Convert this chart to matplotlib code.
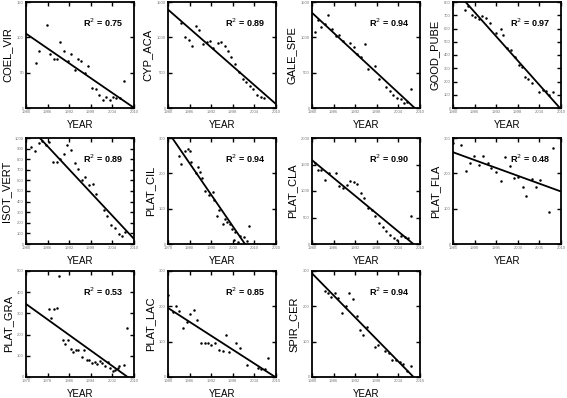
import matplotlib
matplotlib.use("Agg")
import matplotlib.pyplot as plt
import numpy as np

plt.rcParams['font.family'] = ['Liberation Sans', 'DejaVu Sans']

# species names (y labels) and the R^2 printed in each panel
species = ["COEL_VIR", "CYP_ACA", "GALE_SPE", "GOOD_PUBE",
           "ISOT_VERT", "PLAT_CIL", "PLAT_CLA", "PLAT_FLA",
           "PLAT_GRA", "PLAT_LAC", "SPIR_CER"]
r2_text = ["0.75", "0.89", "0.94", "0.97", "0.89", "0.94",
           "0.90", "0.48", "0.53", "0.85", "0.94"]

# counts, one pair of lists per species
coel_vir_year = [1982.7, 1983.7, 1985.7, 1986.6, 1987.7, 1988.6, 1989.5, 1990.6, 1991.6,
                 1992.5, 1993.5, 1994.5, 1995.4, 1996.3, 1997.3, 1998.3, 1999.4, 2000.4,
                 2001.4, 2002.2, 2003.3, 2004.2, 2005.1, 2006.1, 2007.2]
coel_vir = [63, 80, 117, 77, 70, 70, 94, 80, 67, 76, 54, 69, 67, 50, 59, 28, 27, 19,
            12, 15, 12, 16, 14, 14, 38]

cyp_aca_year = [1983.7, 1984.7, 1985.8, 1986.7, 1987.7, 1988.7, 1989.7, 1990.7, 1991.7,
                1992.6, 1993.8, 1994.7, 1995.7, 1996.6, 1997.5, 1998.7, 1999.7, 2000.7,
                2001.6, 2002.7, 2003.6, 2004.7, 2005.7, 2006.6]
cyp_aca = [1205, 999, 961, 877, 1163, 1102, 905, 938, 947, 844, 914, 938, 881, 806,
           727, 624, 516, 413, 366, 314, 272, 188, 150, 136]

gale_spe_year = [1980.7, 1981.6, 1982.6, 1983.6, 1984.5, 1985.6, 1986.6, 1987.6, 1988.6,
                 1990.6, 1991.6, 1992.6, 1993.6, 1994.6, 1995.6, 1997.5, 1998.6, 2000.6,
                 2001.6, 2002.5, 2003.6, 2004.6, 2005.5, 2006.4, 2007.6]
gale_spe = [1078, 1242, 1148, 1195, 1322, 1111, 1017, 1031, 952, 924, 858, 764, 727,
            900, 549, 600, 413, 291, 234, 188, 141, 127, 70, 80, 267]

good_pube_year = [1983.2, 1984.3, 1985.3, 1986.2, 1987.1, 1988.0, 1989.2, 1990.2, 1992.0,
                  1993.2, 1994.0, 1995.1, 1996.2, 1997.1, 1998.2, 1999.1, 2000.0, 2000.9,
                  2001.9, 2004.0, 2004.9, 2005.8, 2006.8, 2007.9]
good_pube = [737, 770, 705, 687, 668, 692, 680, 642, 567, 597, 550, 455, 437, 382, 325,
             312, 237, 217, 192, 117, 137, 125, 95, 117]

isot_vert_year = [1981.4, 1982.5, 1983.5, 1984.5, 1985.5, 1986.4, 1987.4, 1988.5, 1989.4,
                  1990.6, 1991.5, 1992.5, 1993.5, 1994.4, 1995.5, 1996.5, 1997.5, 1998.5,
                  1999.5, 2001.6, 2002.6, 2003.6, 2004.6, 2005.7, 2006.6, 2007.6]
isot_vert = [911, 873, 952, 968, 930, 962, 778, 778, 803, 851, 930, 883, 768, 708, 603,
             632, 556, 562, 476, 324, 263, 181, 149, 98, 73, 111]

plat_cil_year = [1975.1, 1976.2, 1978.0, 1979.2, 1980.2, 1980.8, 1983.1, 1983.8, 1984.9,
                 1985.7, 1986.9, 1988.9, 1990.8, 1991.5, 1992.8, 1993.8, 1995.4, 1996.5,
                 1997.4, 1998.5, 1999.5, 2000.5, 2001.2, 2002.3, 2003.5, 2005.4, 2006.5,
                 2007.4]
plat_cil = [250, 226, 262, 269, 264, 233, 200, 219, 203, 188, 150, 138, 148, 124, 78,
            97, 57, 71, 62, 57, 43, 11, 33, 7, 24, 19, 9, 50]

plat_cla_year = [1980.7, 1981.6, 1982.5, 1983.6, 1984.6, 1986.6, 1987.5, 1988.5, 1989.6,
                 1990.5, 1991.6, 1992.6, 1993.5, 1994.5, 1995.6, 1996.6, 1997.6, 1998.6,
                 1999.6, 2000.6, 2001.7, 2002.7, 2003.7, 2004.6, 2005.7, 2006.6, 2007.6]
plat_cla = [1537, 1397, 1397, 1206, 1333, 1333, 1092, 1048, 1111, 1187, 1175, 1124, 965,
            870, 679, 635, 527, 400, 317, 254, 171, 108, 76, 159, 127, 121, 521]

plat_fla_year = [1985.0, 1986.9, 1988.0, 1989.0, 1989.9, 1991.0, 1992.0, 1993.0, 1993.9,
                 1995.0, 1996.0, 1997.1, 1998.1, 1999.1, 2000.0, 2001.1, 2002.0, 2003.2,
                 2004.1, 2005.2, 2007.3, 2008.2]
plat_fla = [286, 281, 207, 229, 248, 224, 250, 230, 216, 203, 179, 245, 221, 186, 189,
            162, 137, 183, 160, 181, 90, 273]

plat_gra_year = [1978.6, 1979.4, 1980.4, 1981.5, 1982.4, 1983.6, 1984.6, 1985.6, 1986.5,
                 1987.5, 1988.4, 1989.4, 1990.6, 1991.5, 1992.5, 1993.4, 1994.6, 1995.5,
                 1996.3, 1997.4, 1998.2, 1999.1, 2000.3, 2001.1, 2002.1, 2002.9, 2004.0,
                 2004.6, 2006.3, 2007.5]
plat_gra = [322, 278, 321, 325, 478, 176, 156, 173, 134, 116, 129, 126, 94, 126, 82,
            79, 66, 69, 61, 74, 66, 53, 69, 42, 27, 35, 42, 50, 58, 231]

plat_lac_year = [1980.0, 1981.3, 1982.2, 1983.1, 1984.1, 1985.3, 1986.2, 1987.1, 1988.1,
                 1989.2, 1990.2, 1991.1, 1992.0, 1993.1, 1994.1, 1995.2, 1996.1, 1997.0,
                 1999.0, 1999.9, 2001.9, 2005.0, 2005.9, 2006.9, 2007.8]
plat_lac = [232, 183, 201, 186, 139, 156, 177, 189, 161, 95, 95, 97, 90, 97, 76, 73,
            120, 71, 95, 82, 35, 26, 22, 22, 54]

spir_cer_year = [1983.5, 1984.5, 1985.4, 1986.4, 1987.3, 1988.4, 1989.4, 1990.3, 1991.4,
                 1992.4, 1993.3, 1994.3, 1995.4, 1997.4, 1998.4, 2000.3, 2001.4, 2002.3,
                 2003.4, 2004.4, 2005.3, 2006.4, 2007.4]
spir_cer = [244, 237, 227, 239, 224, 182, 201, 239, 222, 173, 132, 120, 142, 85, 90, 73,
            69, 47, 47, 43, 38, 16, 31]

years = [coel_vir_year, cyp_aca_year, gale_spe_year, good_pube_year, isot_vert_year,
         plat_cil_year, plat_cla_year, plat_fla_year, plat_gra_year, plat_lac_year,
         spir_cer_year]
counts = [coel_vir, cyp_aca, gale_spe, good_pube, isot_vert, plat_cil, plat_cla,
          plat_fla, plat_gra, plat_lac, spir_cer]

# axis ranges: (xmin, xmax, xstep, ymax, ystep)
ranges = [(1980, 2010, 6, 150, 50), (1980, 2010, 6, 1500, 500), (1980, 2010, 6, 1500, 500),
          (1980, 2010, 6, 800, 100), (1980, 2010, 6, 1000, 100), (1970, 2020, 10, 300, 100),
          (1980, 2010, 6, 2000, 500), (1985, 2010, 5, 300, 100), (1970, 2010, 8, 500, 100),
          (1980, 2010, 6, 300, 100), (1980, 2010, 6, 300, 100)]

W, H = 567, 398
fig = plt.figure(figsize=(W / 100, H / 100), dpi=100)

col_left = [26, 168, 312, 453]
row_top = [2, 138, 271]
aw, ah = 108, 106

for i, name in enumerate(species):
    r, c = divmod(i, 4)
    ax = fig.add_axes([col_left[c] / W, 1 - (row_top[r] + ah) / H, aw / W, ah / H])
    x0, x1, xs, y1, ys = ranges[i]
    x = np.array(years[i])
    y = np.array(counts[i])
    ax.plot(x, y, 'o', color='black', ms=1.8, mew=0)
    slope, inter = np.polyfit(x, y, 1)
    xx = np.array([x0, x1])
    ax.plot(xx, inter + slope * xx, color='black', lw=1.3)
    ax.set_xlim(x0, x1)
    ax.set_ylim(0, y1)
    ax.set_xticks(np.arange(x0, x1 + 1, xs))
    ax.set_yticks(np.arange(0, y1 + 1, ys))
    ax.tick_params(direction='in', top=True, right=True, length=3, width=1,
                   labelsize=3, labelcolor='#777777', pad=1.5)
    for s in ax.spines.values():
        s.set_linewidth(1.3)
    ax.set_ylabel(name, fontsize=8, labelpad=3)
    ax.set_xlabel("YEAR", fontsize=7, labelpad=4)
    ax.text(0.9, 0.8, "R$^2$ = " + r2_text[i], transform=ax.transAxes, ha='right',
            va='center', fontsize=6.5, fontweight='bold')

fig.savefig("out.png", dpi=100)
